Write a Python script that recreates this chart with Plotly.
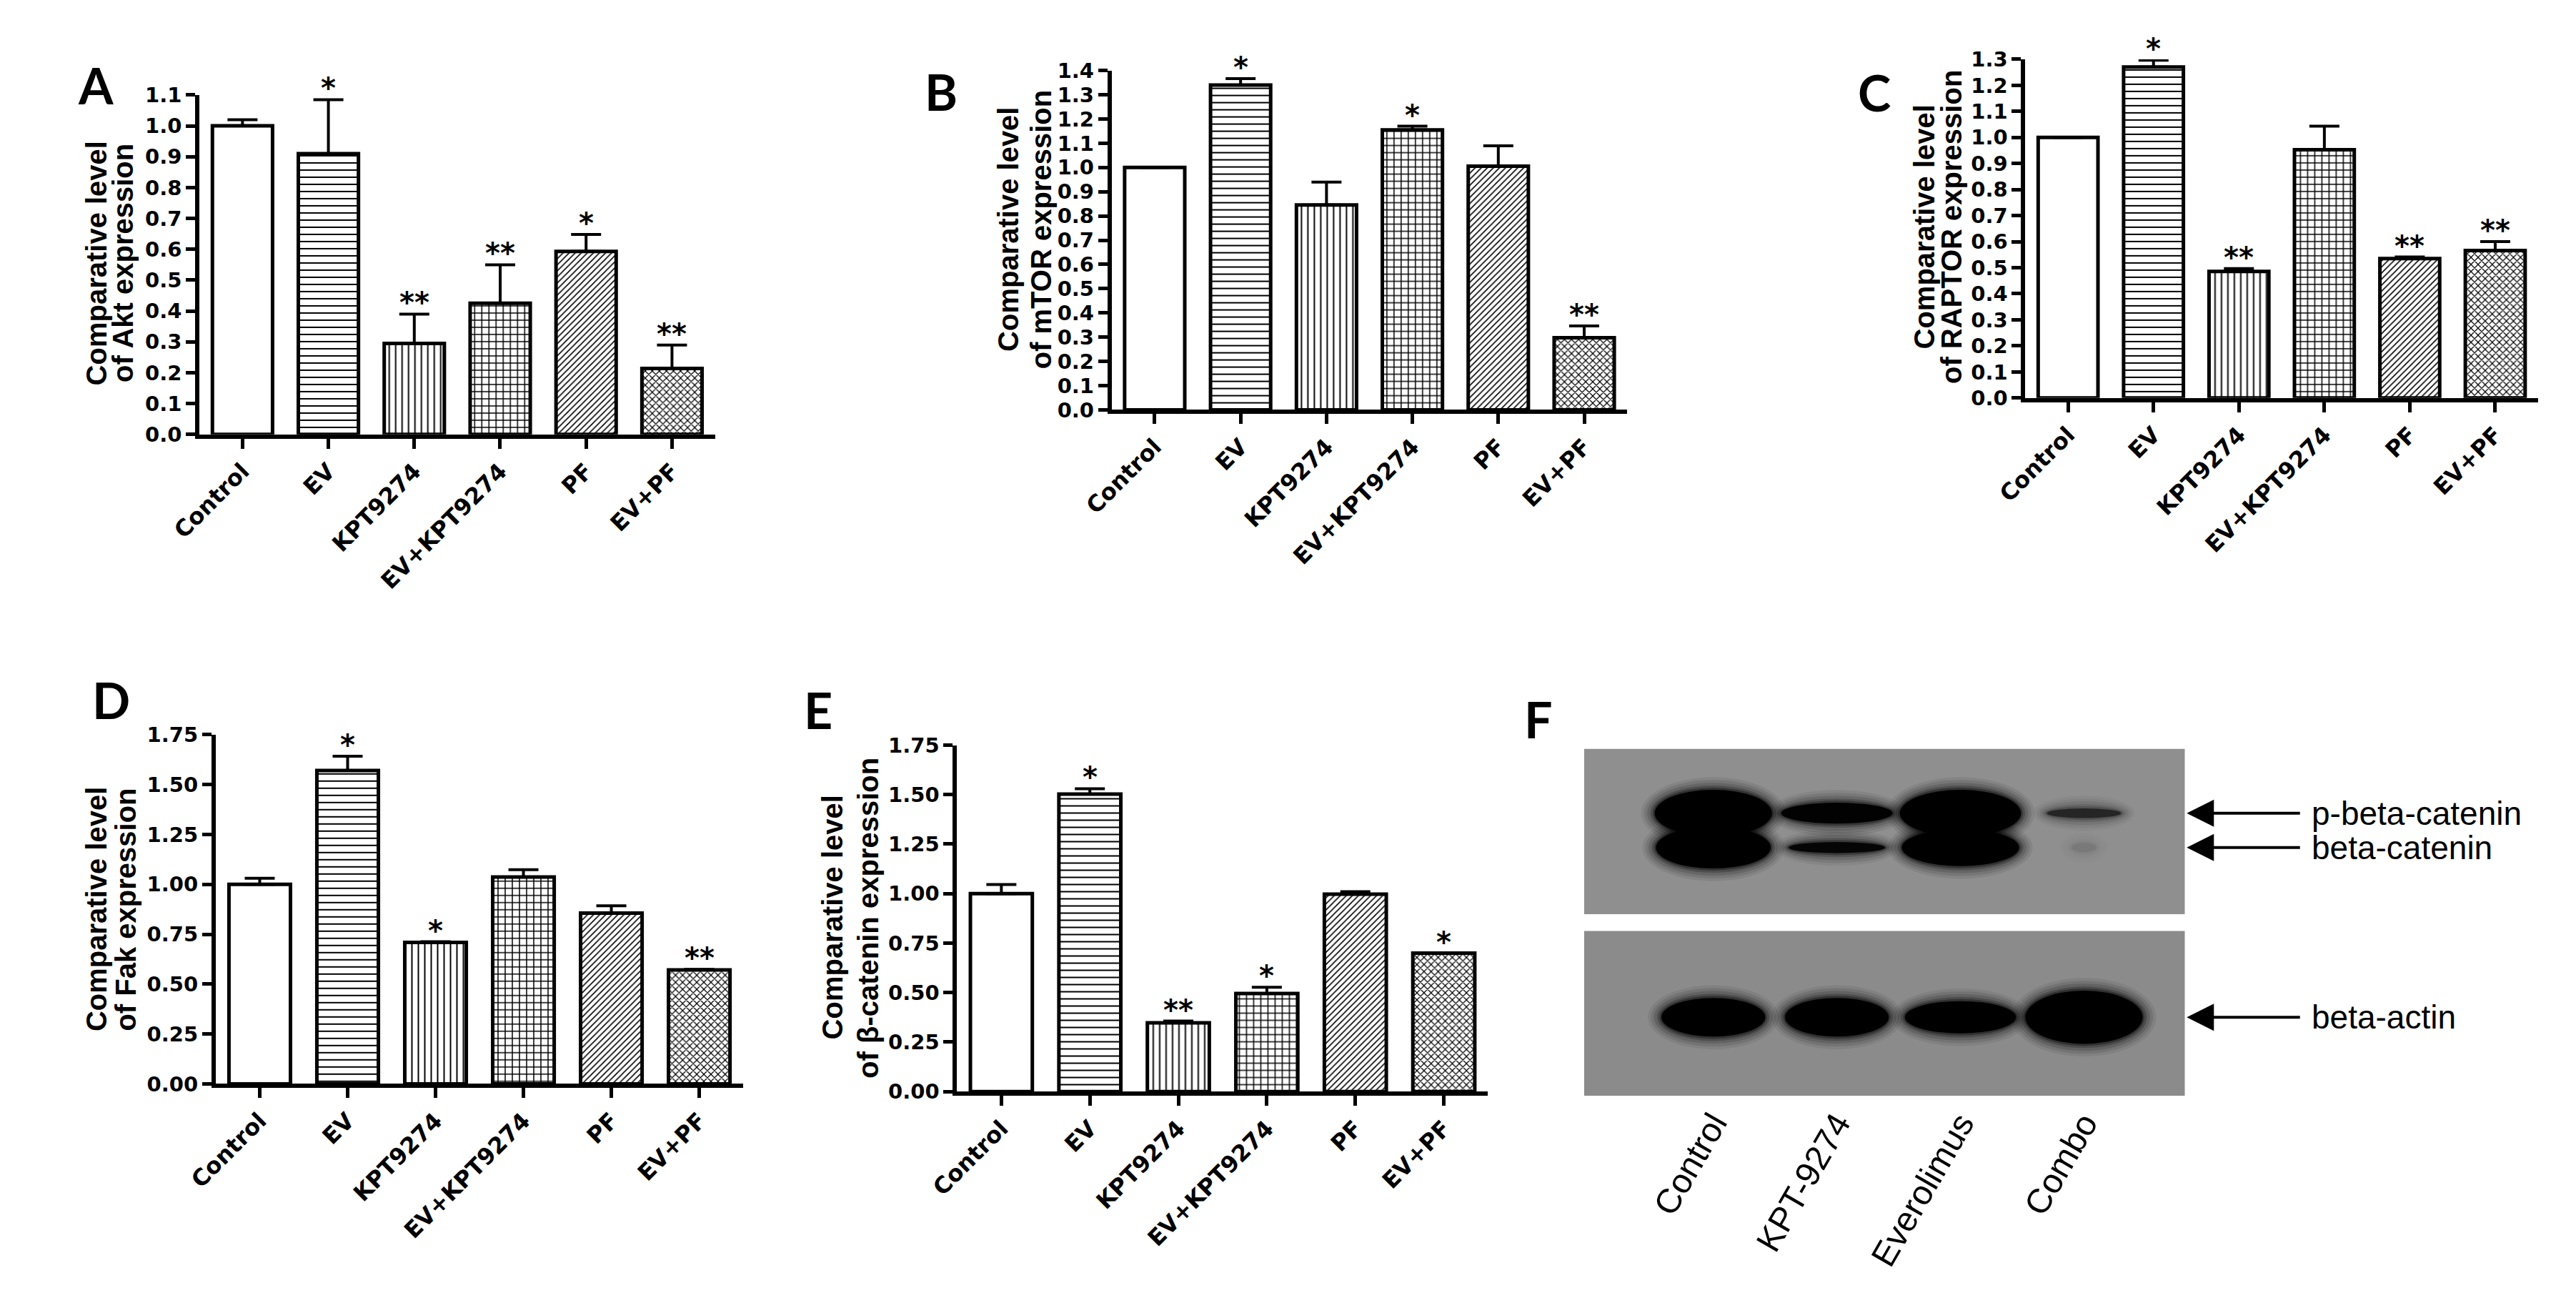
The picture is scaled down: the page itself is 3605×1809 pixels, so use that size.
import plotly.graph_objects as go

W, H = 3605, 1809

# ---------------- data ----------------
categories = ["Control", "EV", "KPT9274", "EV+KPT9274", "PF", "EV+PF"]

akt_mean = [1.00, 0.91, 0.295, 0.425, 0.593, 0.214]
akt_sem = [0.02, 0.175, 0.095, 0.125, 0.055, 0.076]
akt_sig = ["", "*", "**", "**", "*", "**"]

mtor_mean = [1.00, 1.34, 0.845, 1.155, 1.005, 0.298]
mtor_sem = [0.0, 0.026, 0.095, 0.015, 0.084, 0.048]
mtor_sig = ["", "*", "", "*", "", "**"]

raptor_mean = [1.00, 1.27, 0.486, 0.953, 0.535, 0.566]
raptor_sem = [0.0, 0.026, 0.011, 0.090, 0.006, 0.034]
raptor_sig = ["", "*", "**", "", "**", "**"]

fak_mean = [1.00, 1.57, 0.709, 1.037, 0.856, 0.571]
fak_sem = [0.030, 0.072, 0.003, 0.036, 0.036, 0.003]
fak_sig = ["", "*", "*", "", "", "**"]

bcat_mean = [1.00, 1.503, 0.347, 0.495, 0.997, 0.699]
bcat_sem = [0.046, 0.027, 0.009, 0.032, 0.013, 0.0]
bcat_sig = ["", "*", "**", "*", "", "*"]

# western blot (panel F): relative band signal / width / thickness per lane
lanes = ["Control", "KPT-9274", "Everolimus", "Combo"]
pbcat_signal = [1.0, 0.95, 1.0, 0.55]
pbcat_width = [0.95, 0.90, 0.98, 0.60]
pbcat_thick = [1.45, 0.65, 1.45, 0.30]
bcat_signal = [1.0, 0.9, 1.0, 0.07]
bcat_width = [0.93, 0.78, 0.95, 0.20]
bcat_thick = [1.3, 0.34, 1.15, 0.3]
actin_signal = [1.0, 1.0, 1.0, 1.0]
actin_width = [0.84, 0.84, 0.90, 0.95]
actin_thick = [1.2, 1.2, 1.0, 1.65]
blot_labels = ["p-beta-catenin", "beta-catenin", "beta-actin"]

# ---------------- styling ----------------
pattern_shape = ["", "-", "|", "+", "/", "x"]
pattern_size = [10, 10, 9, 10, 6, 7]
pattern_solid = [0.2, 0.2, 0.22, 0.28, 0.26, 0.32]

FONT = "Liberation Sans"
TICKFONT = "DejaVu Sans"


def px(x):
    return x / W


def py(y):
    return 1 - y / H


panels = [
    dict(mean=akt_mean, sem=akt_sem, sig=akt_sig, ymax=1.1, dtick=0.1, fmt=".1f",
         box=(231, 961, 110, 594), title=["Comparative level", "of Akt expression"],
         tx=(85, 123), ty=350, letter="A", lpos=(84, 96)),
    dict(mean=mtor_mean, sem=mtor_sem, sig=mtor_sig, ymax=1.4, dtick=0.1, fmt=".1f",
         box=(1523, 2253, 75, 559), title=["Comparative level", "of mTOR expression"],
         tx=(1377, 1423), ty=302, letter="B", lpos=(1281, 105)),
    dict(mean=raptor_mean, sem=raptor_sem, sig=raptor_sig, ymax=1.3, dtick=0.1, fmt=".1f",
         box=(2817, 3543, 59, 542), title=["Comparative level", "of RAPTOR expression"],
         tx=(2674, 2713), ty=298, letter="C", lpos=(2603, 106)),
    dict(mean=fak_mean, sem=fak_sem, sig=fak_sig, ymax=1.75, dtick=0.25, fmt=".2f",
         box=(254, 1001, 1022, 1520), title=["Comparative level", "of Fak expression"],
         tx=(85, 127), ty=1271, letter="D", lpos=(106, 972)),
    dict(mean=bcat_mean, sem=bcat_sem, sig=bcat_sig, ymax=1.75, dtick=0.25, fmt=".2f",
         box=(1304, 2056, 1037, 1531), title=["Comparative level", "of \u03b2-catenin expression"],
         tx=(1127, 1178), ty=1283, letter="E", lpos=(1107, 987)),
]

fig = go.Figure()
annotations = []
shapes = []
layout = dict(
    width=W, height=H, margin=dict(l=0, r=0, t=0, b=0),
    paper_bgcolor="white", plot_bgcolor="white", showlegend=False,
)

for k, p in enumerate(panels):
    i = k + 1
    xa = "x" if i == 1 else f"x{i}"
    ya = "y" if i == 1 else f"y{i}"
    fig.add_trace(go.Bar(
        x=categories, y=p["mean"], xaxis=xa, yaxis=ya, width=0.7,
        marker=dict(
            color="white",
            line=dict(color="black", width=5),
            pattern=dict(shape=pattern_shape, size=pattern_size, solidity=pattern_solid,
                         fgcolor="black", bgcolor="white", fillmode="replace"),
        ),
        error_y=dict(type="data", array=p["sem"], arrayminus=[0] * 6, symmetric=False,
                     color="black", thickness=4, width=21),
        hoverinfo="skip",
    ))
    x0, x1, y0, y1 = p["box"]
    layout[f"xaxis{i}"] = dict(
        domain=[px(x0), px(x1)], anchor=ya, range=[-0.5, 5.5], type="category",
        showline=True, linewidth=6, linecolor="black", showgrid=False, zeroline=False,
        ticks="outside", ticklen=14, tickwidth=5, tickcolor="black", tickangle=-45,
        tickfont=dict(family=TICKFONT, size=32, color="black", weight="bold"),
    )
    layout[f"yaxis{i}"] = dict(
        domain=[py(y1), py(y0)], anchor=xa, range=[0, p["ymax"]], dtick=p["dtick"],
        tick0=0, tickformat=p["fmt"],
        showline=True, linewidth=6, linecolor="black", showgrid=False, zeroline=False,
        ticks="outside", ticklen=13, tickwidth=5, tickcolor="black",
        tickfont=dict(family=TICKFONT, size=29, color="black", weight="bold"),
    )
    # significance stars
    for c, m, s, g in zip(categories, p["mean"], p["sem"], p["sig"]):
        if g:
            annotations.append(dict(
                x=c, y=m + s, xref=xa, yref=ya, text=g, showarrow=False,
                yanchor="middle", yshift=16,
                font=dict(family=TICKFONT, size=40, color="black", weight="bold"),
            ))
    # y titles (two lines)
    for line, tx in zip(p["title"], p["tx"]):
        annotations.append(dict(
            x=px(tx), y=py(p["ty"]), xref="paper", yref="paper", text=line,
            textangle=-90, showarrow=False, xanchor="center", yanchor="middle",
            font=dict(family=FONT, size=40, color="black", weight="bold"),
        ))
    annotations.append(dict(
        x=px(p["lpos"][0]), y=py(p["lpos"][1]), xref="paper", yref="paper",
        text=p["letter"], showarrow=False, xanchor="center", yanchor="middle",
        font=dict(family="Lato", size=70, color="black", weight="bold"),
    ))

# ---------------- panel F: western blot ----------------
BX0, BX1, BY0, BY1 = 2192, 3043, 1042, 1537
lane_x = list(range(len(lanes)))
fig.add_trace(go.Scatter(x=lane_x, y=[0] * len(lanes), xaxis="x6", yaxis="y6",
                         mode="markers", marker=dict(opacity=0), hoverinfo="skip"))
layout["xaxis6"] = dict(
    domain=[px(BX0), px(BX1)], anchor="y6", range=[-1.046, 3.817],
    showline=False, showgrid=False, zeroline=False,
    tickvals=lane_x, ticktext=lanes, tickangle=-60, ticks="",
    tickfont=dict(family=FONT, size=48, color="black"),
)
layout["yaxis6"] = dict(
    domain=[py(BY1), py(BY0)], anchor="x6", range=[BY1 - BY0, 0],
    showline=False, showgrid=False, zeroline=False, showticklabels=False, ticks="",
)

# membranes
for (t, b, col) in [(0, 236, "#8f8f8f"), (260, BY1 - BY0, "#8b8b8b")]:
    shapes.append(dict(type="rect", xref="x6", yref="y6", x0=-1.046, x1=3.817, y0=t, y1=b,
                       fillcolor=col, line=dict(width=0), layer="below"))

row_y = [92, 141, 383]
UNIT = 46
band_sets = [
    (pbcat_signal, pbcat_width, pbcat_thick, row_y[0]),
    (bcat_signal, bcat_width, bcat_thick, row_y[1]),
    (actin_signal, actin_width, actin_thick, row_y[2]),
]
halo = [(0.11, 18, 0.07), (0.085, 14, 0.1), (0.06, 10, 0.14), (0.035, 6, 0.22),
        (0.015, 3, 0.35), (0.0, 0, 1.0)]
for sig, wid, thk, yr in band_sets:
    for j in lane_x:
        hw = wid[j] / 2
        hh = thk[j] * UNIT / 2
        for dx, dy, a in halo:
            shapes.append(dict(
                type="circle", xref="x6", yref="y6",
                x0=j - hw - dx, x1=j + hw + dx, y0=yr - hh - dy, y1=yr + hh + dy,
                fillcolor="black", opacity=a * sig[j], line=dict(width=0), layer="above",
            ))

# arrows + labels
for lab, yr in zip(blot_labels, row_y):
    annotations.append(dict(
        x=1.003, y=yr, xref="x6 domain", yref="y6", text="", showarrow=True,
        ax=160, ay=0, axref="pixel", ayref="pixel",
        arrowhead=2, arrowsize=1.9, arrowwidth=4, arrowcolor="black",
    ))
    annotations.append(dict(
        x=1.209, y=yr, xref="x6 domain", yref="y6", text=lab, showarrow=False,
        xanchor="left", yanchor="middle",
        font=dict(family=FONT, size=46, color="black"),
    ))

annotations.append(dict(
    x=px(2127), y=py(1000), xref="paper", yref="paper", text="F", showarrow=False,
    xanchor="center", yanchor="middle",
    font=dict(family="Lato", size=70, color="black", weight="bold"),
))

layout["annotations"] = annotations
layout["shapes"] = shapes
fig.update_layout(**layout)
fig.write_html("out.html", config={"displayModeBar": False})
